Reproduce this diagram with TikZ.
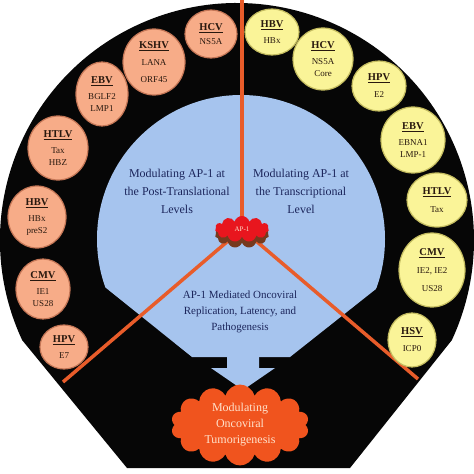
\documentclass[tikz,border=0pt]{standalone}
\usepackage{fontspec}
\setmainfont{Liberation Serif}
\usepackage{xcolor}
\usetikzlibrary{shapes.geometric,shapes.symbols,shadows,positioning}
\definecolor{ringblack}{RGB}{6,6,6}
\definecolor{coreblue}{RGB}{166,196,238}
\definecolor{navy}{RGB}{28,38,92}
\definecolor{rayorange}{RGB}{232,92,42}
\definecolor{salmon}{RGB}{247,172,136}
\definecolor{salmonrim}{RGB}{196,118,86}
\definecolor{paleyellow}{RGB}{250,244,152}
\definecolor{yellowrim}{RGB}{196,188,96}
\definecolor{vtext}{RGB}{40,24,14}
\definecolor{apred}{RGB}{232,22,30}
\definecolor{apbrown}{RGB}{118,58,30}
\definecolor{tumorange}{RGB}{240,84,30}
\definecolor{peach}{RGB}{255,226,204}
\tikzstyle{vleft} = [ellipse, draw=salmonrim, line width=1.2pt, fill=salmon, inner sep=0pt, align=center, text=vtext, font=\fontsize{9}{12}\selectfont]
\tikzstyle{vright} = [vleft, draw=yellowrim, fill=paleyellow]
\tikzstyle{ray} = [line width=3.5pt, draw=rayorange]
\tikzstyle{caption} = [align=center, text=navy, font=\fontsize{12}{18}\selectfont]
\tikzstyle{apcloud} = [cloud, cloud puffs=11, aspect=1.9, fill=apred, minimum width=54pt, minimum height=26pt, inner sep=0pt, text=peach, font=\fontsize{7}{8}\selectfont, drop shadow={shadow xshift=0pt, shadow yshift=-6pt, fill=apbrown, opacity=1}]
\tikzstyle{tumcloud} = [cloud, cloud puffs=14, aspect=2.1, fill=tumorange, minimum width=138pt, minimum height=64pt, inner sep=0pt, align=center, text=peach, font=\fontsize{12}{16}\selectfont]
\newcommand{\vname}[1]{{\fontsize{10.5}{12}\selectfont\underline{\textbf{#1}}}}

\begin{document}
\begin{tikzpicture}[x=1pt,y=-1pt]
        \useasboundingbox (0,0) rectangle (474,474);
        % ring and inner disc
        \fill[ringblack] (127,468) -- (22.2,340.2) arc[start angle=155, end angle=385, radius=237] -- (350,468) -- cycle;
        \begin{scope}
            \clip (60,0) -- (424,0) -- (424,251) -- (290,357) -- (192,357) -- (60,251) -- cycle;
            \fill[coreblue] (241,239) circle[radius=144];
        \end{scope}
        \fill[coreblue] (227,350) -- (259,350) -- (259,368) -- (275,368) -- (243,390) -- (211,368) -- (227,368) -- cycle;
        % rays
        \coordinate (apc) at (242,229);
        \coordinate (topend) at (242,0);
        \coordinate (leftend) at (63,382);
        \coordinate (rightend) at (418,379);
        \draw[ray] (apc) -- (topend);
        \draw[ray] (apc) -- (leftend);
        \draw[ray] (apc) -- (rightend);
        % captions
        \node[caption] (post) at (177,191) {Modulating AP-1 at\\the Post-Translational\\Levels};
        \node[caption] (trans) at (301,191) {Modulating AP-1 at\\the Transcriptional\\Level};
        \node[caption, font=\fontsize{11}{16}\selectfont] (mediated) at (240,312) {AP-1 Mediated Oncoviral\\Replication, Latency, and\\Pathogenesis};
        \node[apcloud] (ap1) at (apc) {AP-1};
        \node[tumcloud] (tumor) at (240,425) {Modulating\\Oncoviral\\Tumorigenesis};
        % left viruses
        \node[vleft, minimum width=52pt, minimum height=48pt] (hcvL) at (211,34) {\vname{HCV}\\[2pt]NS5A};
        \node[vleft, minimum width=62pt, minimum height=66pt] (kshvL) at (154,62) {\vname{KSHV}\\[5pt]LANA\\[5pt]ORF45};
        \node[vleft, minimum width=52pt, minimum height=64pt] (ebvL) at (102,94) {\vname{EBV}\\[4pt]BGLF2\\LMP1};
        \node[vleft, minimum width=60pt, minimum height=64pt] (htlvL) at (58,148) {\vname{HTLV}\\[4pt]Tax\\HBZ};
        \node[vleft, minimum width=58pt, minimum height=62pt] (hbvL) at (37,217) {\vname{HBV}\\[4pt]HBx\\preS2};
        \node[vleft, minimum width=54pt, minimum height=60pt] (cmvL) at (43,289) {\vname{CMV}\\[4pt]IE1\\US28};
        \node[vleft, minimum width=48pt, minimum height=44pt] (hpvL) at (64,347) {\vname{HPV}\\[4pt]E7};
        % right viruses
        \node[vright, minimum width=54pt, minimum height=46pt] (hbvR) at (272,32) {\vname{HBV}\\[4pt]HBx};
        \node[vright, minimum width=60pt, minimum height=62pt] (hcvR) at (323,59) {\vname{HCV}\\[4pt]NS5A\\Core};
        \node[vright, minimum width=54pt, minimum height=50pt] (hpvR) at (379,86) {\vname{HPV}\\[5pt]E2};
        \node[vright, minimum width=64pt, minimum height=66pt] (ebvR) at (413,140) {\vname{EBV}\\[4pt]EBNA1\\LMP-1};
        \node[vright, minimum width=60pt, minimum height=54pt] (htlvR) at (437,200) {\vname{HTLV}\\[6pt]Tax};
        \node[vright, minimum width=66pt, minimum height=74pt] (cmvR) at (432,270) {\vname{CMV}\\[6pt]IE2, IE2\\[6pt]US28};
        \node[vright, minimum width=48pt, minimum height=54pt] (hsvR) at (412,340) {\vname{HSV}\\[5pt]ICP0};
    \end{tikzpicture}
\end{document}
